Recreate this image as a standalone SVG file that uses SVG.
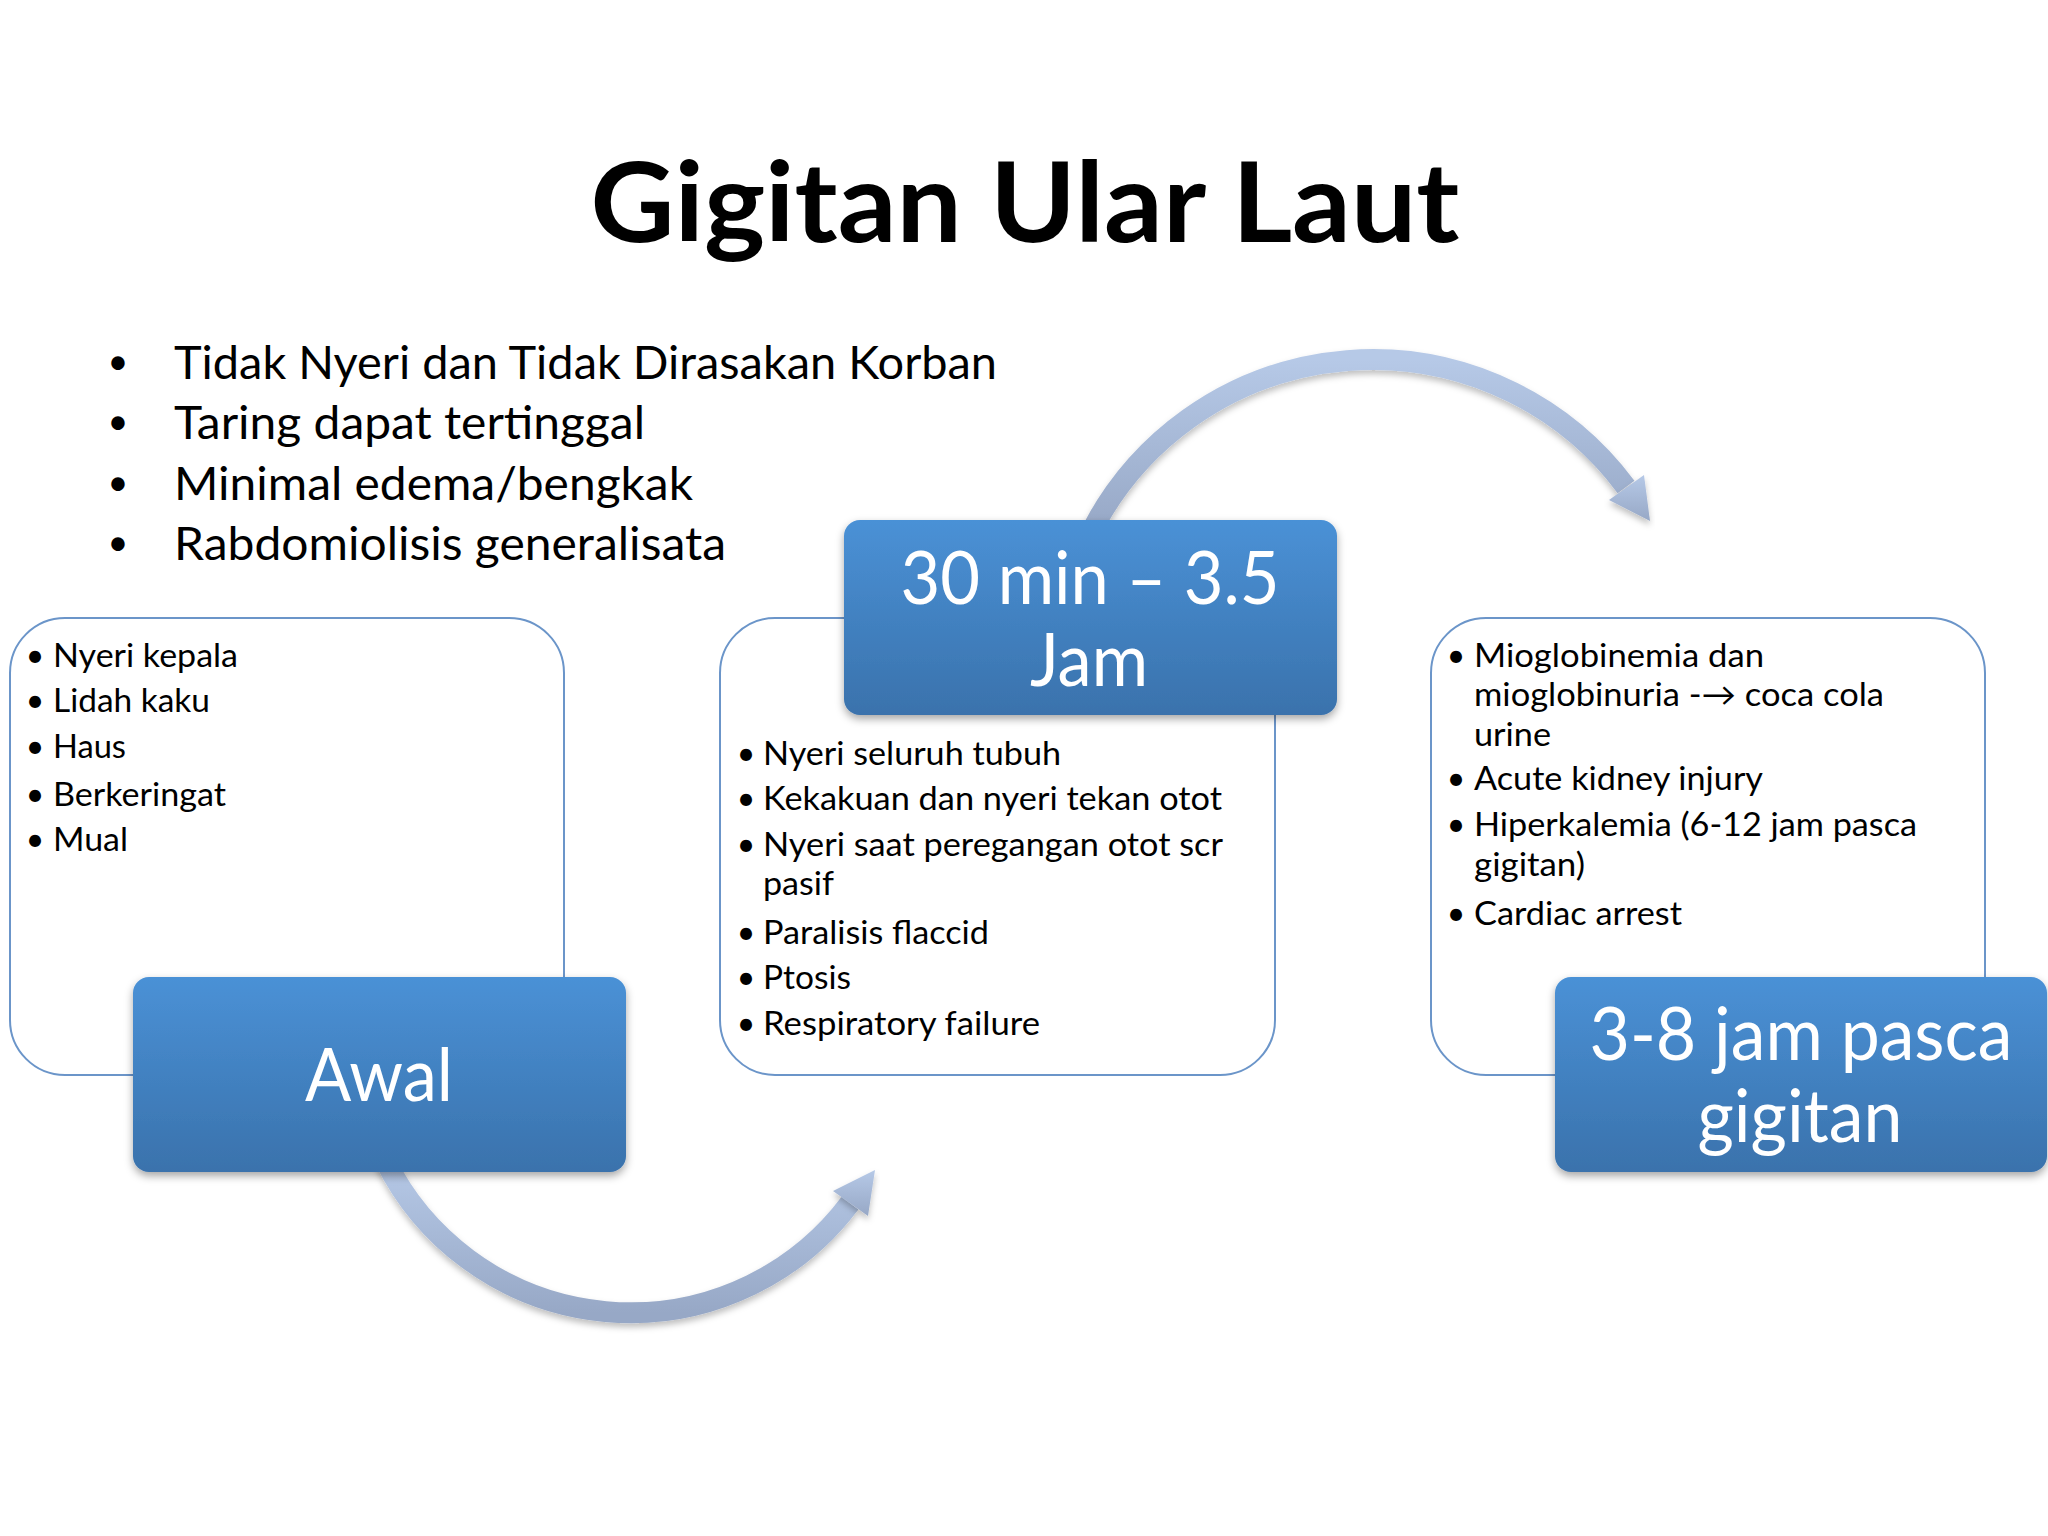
<svg xmlns="http://www.w3.org/2000/svg" width="2048" height="1536" viewBox="0 0 2048 1536">
<defs>
<style>
.t{font-family:Lato,"Open Sans","Liberation Sans",sans-serif;fill:#000}
.title{font-weight:bold;font-size:112px}
.big{font-size:46px}
.bb{font-size:36px}
.sm{font-size:32px}
.lbl{font-size:74px;fill:#fff;text-anchor:middle}
.bul{text-anchor:middle}
.frame{fill:#fff;stroke:#6b95c9;stroke-width:2}
.blue{fill:url(#bg);filter:url(#sh)}
.band{fill:none;stroke:url(#ag);stroke-width:21;filter:url(#ash)}
.head{fill:url(#ag);filter:url(#ash)}
</style>
<linearGradient id="bg" x1="0" y1="0" x2="0" y2="1">
<stop offset="0" stop-color="#4a91d6"/>
<stop offset="1" stop-color="#3a72ac"/>
</linearGradient>
<linearGradient id="ag" x1="0" y1="0" x2="0" y2="1">
<stop offset="0" stop-color="#b6c9e7"/>
<stop offset="1" stop-color="#97a8c6"/>
</linearGradient>
<filter id="sh" x="-10%" y="-10%" width="120%" height="130%">
<feDropShadow dx="0" dy="4" stdDeviation="4" flood-color="#000" flood-opacity="0.35"/>
</filter>
<filter id="ash" x="-10%" y="-10%" width="120%" height="130%">
<feDropShadow dx="0" dy="4" stdDeviation="3" flood-color="#000" flood-opacity="0.25"/>
</filter>
</defs>
<rect width="2048" height="1536" fill="#fff"/>

<g id="title">
<text class="t title" x="1025" y="242" text-anchor="middle" textLength="869" lengthAdjust="spacingAndGlyphs">Gigitan Ular Laut</text>
</g>

<g id="intro">
<text class="t bb bul" x="118" y="374">•</text>
<text class="t big" x="174" y="379" textLength="823" lengthAdjust="spacingAndGlyphs">Tidak Nyeri dan Tidak Dirasakan Korban</text>
<text class="t bb bul" x="118" y="434">•</text>
<text class="t big" x="174" y="439" textLength="471" lengthAdjust="spacingAndGlyphs">Taring dapat tertinggal</text>
<text class="t bb bul" x="118" y="495">•</text>
<text class="t big" x="174" y="500" textLength="519" lengthAdjust="spacingAndGlyphs">Minimal edema/bengkak</text>
<text class="t bb bul" x="118" y="555">•</text>
<text class="t big" x="174" y="560" textLength="552" lengthAdjust="spacingAndGlyphs">Rabdomiolisis generalisata</text>
</g>

<g id="box-awal-detail">
<rect class="frame" x="10" y="618" width="554" height="457" rx="55"/>
<text class="t sm bul" x="35" y="667">•</text>
<text class="t sm" x="53" y="667" textLength="185" lengthAdjust="spacingAndGlyphs">Nyeri kepala</text>
<text class="t sm bul" x="35" y="712">•</text>
<text class="t sm" x="53" y="712" textLength="157" lengthAdjust="spacingAndGlyphs">Lidah kaku</text>
<text class="t sm bul" x="35" y="758">•</text>
<text class="t sm" x="53" y="758" textLength="73" lengthAdjust="spacingAndGlyphs">Haus</text>
<text class="t sm bul" x="35" y="806">•</text>
<text class="t sm" x="53" y="806" textLength="173" lengthAdjust="spacingAndGlyphs">Berkeringat</text>
<text class="t sm bul" x="35" y="851">•</text>
<text class="t sm" x="53" y="851" textLength="75" lengthAdjust="spacingAndGlyphs">Mual</text>
</g>

<g id="box-mid-detail">
<rect class="frame" x="720" y="618" width="555" height="457" rx="55"/>
<text class="t sm bul" x="746" y="765">•</text>
<text class="t sm" x="763" y="765" textLength="298" lengthAdjust="spacingAndGlyphs">Nyeri seluruh tubuh</text>
<text class="t sm bul" x="746" y="810">•</text>
<text class="t sm" x="763" y="810" textLength="459" lengthAdjust="spacingAndGlyphs">Kekakuan dan nyeri tekan otot</text>
<text class="t sm bul" x="746" y="856">•</text>
<text class="t sm" x="763" y="856" textLength="460" lengthAdjust="spacingAndGlyphs">Nyeri saat peregangan otot scr</text>
<text class="t sm" x="763" y="895" textLength="71" lengthAdjust="spacingAndGlyphs">pasif</text>
<text class="t sm bul" x="746" y="944">•</text>
<text class="t sm" x="763" y="944" textLength="226" lengthAdjust="spacingAndGlyphs">Paralisis flaccid</text>
<text class="t sm bul" x="746" y="989">•</text>
<text class="t sm" x="763" y="989" textLength="88" lengthAdjust="spacingAndGlyphs">Ptosis</text>
<text class="t sm bul" x="746" y="1035">•</text>
<text class="t sm" x="763" y="1035" textLength="277" lengthAdjust="spacingAndGlyphs">Respiratory failure</text>
</g>

<g id="box-late-detail">
<rect class="frame" x="1431" y="618" width="554" height="457" rx="55"/>
<text class="t sm bul" x="1456" y="667">•</text>
<text class="t sm" x="1474" y="667" textLength="290" lengthAdjust="spacingAndGlyphs">Mioglobinemia dan</text>
<text class="t sm" x="1474" y="706" textLength="410" lengthAdjust="spacingAndGlyphs">mioglobinuria -→ coca cola</text>
<text class="t sm" x="1474" y="746" textLength="77" lengthAdjust="spacingAndGlyphs">urine</text>
<text class="t sm bul" x="1456" y="790">•</text>
<text class="t sm" x="1474" y="790" textLength="289" lengthAdjust="spacingAndGlyphs">Acute kidney injury</text>
<text class="t sm bul" x="1456" y="836">•</text>
<text class="t sm" x="1474" y="836" textLength="443" lengthAdjust="spacingAndGlyphs">Hiperkalemia (6-12 jam pasca</text>
<text class="t sm" x="1474" y="876" textLength="111" lengthAdjust="spacingAndGlyphs">gigitan)</text>
<text class="t sm bul" x="1456" y="925">•</text>
<text class="t sm" x="1474" y="925" textLength="208" lengthAdjust="spacingAndGlyphs">Cardiac arrest</text>
</g>

<g id="connectors">
<path class="band" d="M 1092 530 A 316 316 0 0 1 1626 487"/>
<polygon class="head" points="1650,521 1644,475 1609,500"/>
<path class="band" d="M 385 1160 A 274 274 0 0 0 850 1203.1"/>
<polygon class="head" points="875,1170 868,1216 833,1191"/>
</g>

<g id="node-awal">
<rect class="blue" x="133" y="977" width="493" height="195" rx="16"/>
<text class="t lbl" x="379" y="1101" textLength="148" lengthAdjust="spacingAndGlyphs">Awal</text>
</g>

<g id="node-30min">
<rect class="blue" x="844" y="520" width="493" height="195" rx="16"/>
<text class="t lbl" x="1090" y="604" textLength="379" lengthAdjust="spacingAndGlyphs">30 min – 3.5</text>
<text class="t lbl" x="1089" y="686" textLength="118" lengthAdjust="spacingAndGlyphs">Jam</text>
</g>

<g id="node-3-8jam">
<rect class="blue" x="1555" y="977" width="492" height="195" rx="16"/>
<text class="t lbl" x="1801" y="1060" textLength="423" lengthAdjust="spacingAndGlyphs">3-8 jam pasca</text>
<text class="t lbl" x="1800" y="1142" textLength="205" lengthAdjust="spacingAndGlyphs">gigitan</text>
</g>
</svg>
